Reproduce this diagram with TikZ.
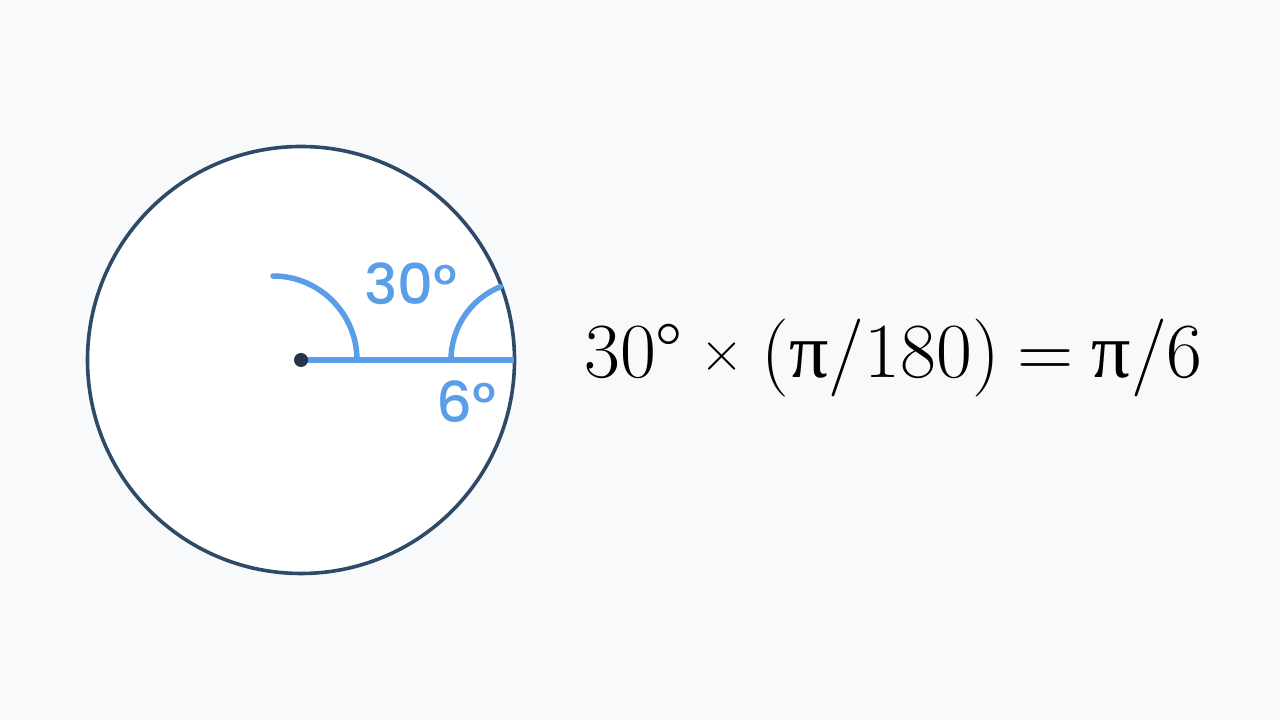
\documentclass[tikz,border=0pt]{standalone}
\usepackage{fontspec}
\setmainfont{Latin Modern Roman}
\newfontfamily\labelfont{Poppins}[UprightFont=* Medium]
\newfontfamily\pifont{Liberation Serif}
\definecolor{bgc}{HTML}{F8F9FA}
\definecolor{ringc}{HTML}{2E4A68}
\definecolor{bluec}{HTML}{5A9DE8}
\definecolor{dotc}{HTML}{263646}
\newcommand{\smalltimes}{\raisebox{6pt}{\fontsize{60}{60}\selectfont ×}}
\newcommand{\gapsp}{\hspace{18pt}}
\tikzset{
  ring/.style={draw=ringc, line width=3.6pt, fill=white},
  blueline/.style={draw=bluec, line width=5.5pt},
  bluearc/.style={draw=bluec, line width=5.5pt, line cap=round},
  anglabel/.style={text=bluec, inner sep=0pt, anchor=base west, font=\labelfont\fontsize{56}{60}\selectfont},
  formula/.style={inner sep=0pt, anchor=base west, font=\fontsize{78}{82}\selectfont}
}
\begin{document}
\begin{tikzpicture}[x=1pt,y=1pt]
\useasboundingbox (0,0) rectangle (1280,720);
\fill[bgc] (0,0) rectangle (1280,720);
\coordinate (O) at (301,360);
\coordinate (R) at (514,360);
\draw[ring] (O) circle (213.5);
\draw[blueline] (O) -- (R);
\draw[bluearc] (273,444) arc[start angle=90, end angle=0, radius=84];
\draw[bluearc] (451,360) arc[start angle=180, end angle=112, radius=79];
\fill[dotc] (O) circle (7);
\node[anglabel] (l30) at (364,415) {30°};
\node[anglabel] (l6) at (436,297) {6°};
\node[formula] (eq) at (584,342) {30°\gapsp\smalltimes\gapsp({\pifont π}/180)\gapsp=\gapsp{\pifont π}/6};
\end{tikzpicture}
\end{document}
